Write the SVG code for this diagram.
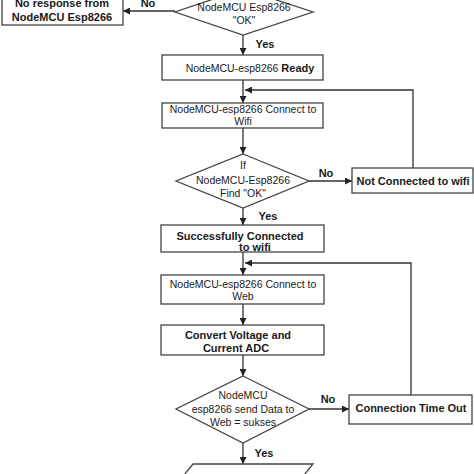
<svg xmlns="http://www.w3.org/2000/svg" width="474" height="474" viewBox="0 0 474 474">
<style>
.shape{fill:#fff;stroke:#444;stroke-width:1.3}
.line{fill:none;stroke:#333;stroke-width:1.3}
text{font-family:"Liberation Sans",Arial,sans-serif;font-size:10.5px;fill:#1a1a1a;text-anchor:middle}
.b{font-weight:bold;font-size:11px}
</style>
<defs>
<marker id="ah" viewBox="0 0 10 10" refX="10" refY="5" markerWidth="7" markerHeight="7" markerUnits="userSpaceOnUse" orient="auto">
<path d="M0,0 L10,5 L0,10 z" fill="#222"/>
</marker>
</defs>
<rect width="474" height="474" fill="#fff"/>
<g id="connectors">
<line class="line" x1="175" y1="11" x2="123" y2="11" marker-end="url(#ah)"/>
<line class="line" x1="243" y1="34" x2="243" y2="55" marker-end="url(#ah)"/>
<line class="line" x1="243" y1="80" x2="243" y2="103" marker-end="url(#ah)"/>
<polyline class="line" points="413,168 413,90 245,90" marker-end="url(#ah)"/>
<line class="line" x1="243" y1="128" x2="243" y2="154" marker-end="url(#ah)"/>
<line class="line" x1="309" y1="181" x2="352" y2="181" marker-end="url(#ah)"/>
<line class="line" x1="243" y1="208" x2="243" y2="225" marker-end="url(#ah)"/>
<line class="line" x1="243" y1="252" x2="243" y2="275" marker-end="url(#ah)"/>
<polyline class="line" points="411,395 411,263 245,263" marker-end="url(#ah)"/>
<line class="line" x1="243" y1="304" x2="243" y2="325" marker-end="url(#ah)"/>
<line class="line" x1="243" y1="355" x2="243" y2="376" marker-end="url(#ah)"/>
<line class="line" x1="309" y1="409" x2="349" y2="409" marker-end="url(#ah)"/>
<line class="line" x1="243" y1="443" x2="243" y2="464" marker-end="url(#ah)"/>
<text class="b" x="148" y="7">No</text>
<text class="b" x="265" y="48">Yes</text>
<text class="b" x="326" y="177">No</text>
<text class="b" x="268" y="220">Yes</text>
<text class="b" x="328" y="403">No</text>
<text class="b" x="264" y="457">Yes</text>
</g>
<g id="no-response">
<rect class="shape" x="2" y="-10" width="121" height="35"/>
<text class="b" x="62" y="7">No response from</text>
<text class="b" x="62" y="21">NodeMCU Esp8266</text>
</g>
<g id="decision-ok">
<polygon class="shape" points="243,-11 313,12 243,35 175,12"/>
<text x="244" y="11">NodeMCU Esp8266</text>
<text x="244" y="24">"OK"</text>
</g>
<g id="ready">
<rect class="shape" x="162" y="55" width="161" height="25"/>
<text x="250" y="72"><tspan>NodeMCU-esp8266 </tspan><tspan class="b">Ready</tspan></text>
</g>
<g id="connect-wifi">
<rect class="shape" x="162" y="103" width="161" height="25"/>
<text x="243" y="113">NodeMCU-esp8266 Connect to</text>
<text x="243" y="125">Wifi</text>
</g>
<g id="decision-wifi">
<polygon class="shape" points="243,154 309,181 243,208 176,181"/>
<text x="243" y="169">If</text>
<text x="243" y="184">NodeMCU-Esp8266</text>
<text x="243" y="197">Find "OK"</text>
</g>
<g id="not-connected">
<rect class="shape" x="352" y="168" width="121" height="25"/>
<text class="b" x="413" y="185">Not Connected to wifi</text>
</g>
<g id="connected">
<rect class="shape" x="161" y="225" width="163" height="27"/>
<text class="b" x="240" y="240">Successfully Connected</text>
<text class="b" x="255" y="251">to wifi</text>
</g>
<g id="connect-web">
<rect class="shape" x="161" y="275" width="163" height="29"/>
<text x="243" y="288">NodeMCU-esp8266 Connect to</text>
<text x="243" y="300">Web</text>
</g>
<g id="convert">
<rect class="shape" x="161" y="325" width="163" height="30"/>
<text class="b" x="238" y="339">Convert Voltage and</text>
<text class="b" x="236" y="352">Current ADC</text>
</g>
<g id="decision-send">
<polygon class="shape" points="243,376 309,409 243,443 176,409"/>
<text x="243" y="399">NodeMCU</text>
<text x="243" y="413">esp8266 send Data to</text>
<text x="243" y="426">Web = sukses</text>
</g>
<g id="timeout">
<rect class="shape" x="349" y="395" width="123" height="29"/>
<text class="b" x="411" y="412">Connection Time Out</text>
</g>
<g id="output">
<polygon class="shape" points="193,464 313,464 300,480 180,480"/>
</g>
</svg>
